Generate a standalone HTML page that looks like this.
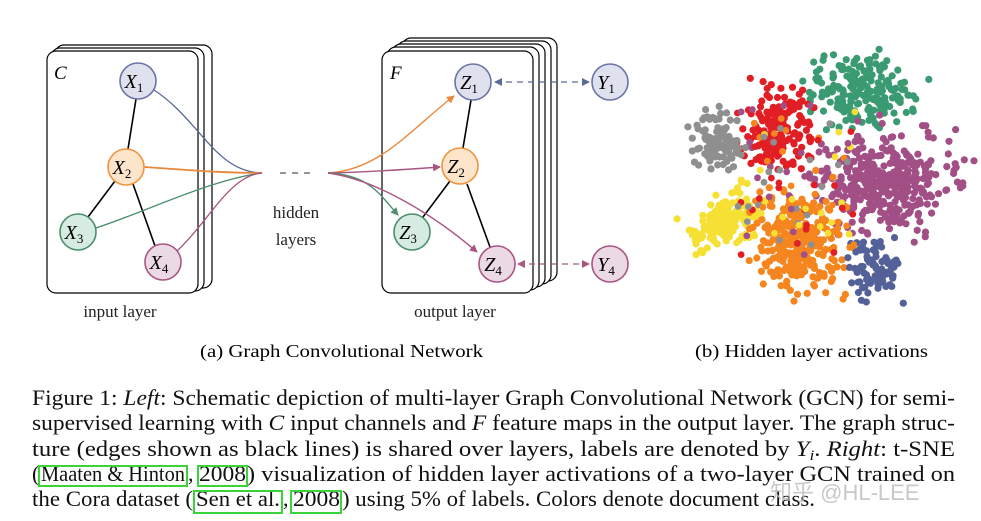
<!DOCTYPE html>
<html><head><meta charset="utf-8"><style>
html,body{margin:0;padding:0;background:#fff;}
svg{display:block;}
</style></head><body>
<svg id="s" width="981" height="521" viewBox="0 0 981 521" xmlns="http://www.w3.org/2000/svg" font-family="Liberation Serif, serif">
<defs>
<marker id="ao" markerWidth="8" markerHeight="8" refX="7" refY="4" orient="auto" markerUnits="userSpaceOnUse"><path d="M0,0 L8,4 L0,8 Z" fill="#e8883a"/></marker>
<marker id="ap" markerWidth="8" markerHeight="8" refX="7" refY="4" orient="auto" markerUnits="userSpaceOnUse"><path d="M0,0 L8,4 L0,8 Z" fill="#a85682"/></marker>
<marker id="ag" markerWidth="8" markerHeight="8" refX="7" refY="4" orient="auto" markerUnits="userSpaceOnUse"><path d="M0,0 L8,4 L0,8 Z" fill="#4b8f6c"/></marker>
<marker id="ab" markerWidth="8" markerHeight="8" refX="7" refY="4" orient="auto-start-reverse" markerUnits="userSpaceOnUse"><path d="M0,0 L8,4 L0,8 Z" fill="#5a6a9a"/></marker>
<marker id="am" markerWidth="8" markerHeight="8" refX="7" refY="4" orient="auto-start-reverse" markerUnits="userSpaceOnUse"><path d="M0,0 L8,4 L0,8 Z" fill="#a85682"/></marker>
</defs>
<g fill="#fff" stroke="#000" stroke-width="1.2">
<rect x="55" y="45" width="157" height="243" rx="9"/>
<rect x="51" y="48" width="153" height="243" rx="9"/>
<rect x="47" y="51" width="151" height="242" rx="9"/>
</g>
<text x="54" y="79" font-size="19" font-style="italic">C</text>
<g fill="#fff" stroke="#000" stroke-width="1.2">
<rect x="402" y="38" width="155" height="243" rx="9"/>
<rect x="397" y="41" width="154" height="243" rx="9"/>
<rect x="392" y="44" width="153" height="243" rx="9"/>
<rect x="387" y="47" width="152" height="243" rx="9"/>
<rect x="382" y="51" width="151" height="242" rx="9"/>
</g>
<text x="390" y="79" font-size="19" font-style="italic">F</text>
<g stroke="#000" stroke-width="1.6">
<line x1="136" y1="99" x2="128" y2="149"/>
<line x1="115" y1="181" x2="88" y2="217"/>
<line x1="133" y1="184" x2="155" y2="246"/>
<line x1="471" y1="100" x2="463" y2="148"/>
<line x1="450" y1="181" x2="423" y2="217"/>
<line x1="467" y1="184" x2="490" y2="247"/>
</g>
<g fill="none" stroke-width="1.3">
<path d="M154,90 C200,120 215,172 262,173" stroke="#5a6a9a"/>
<path d="M144,167 C190,170 220,173 262,173" stroke="#e8883a" stroke-width="1.8"/>
<path d="M96,228 C150,210 210,180 262,173" stroke="#4b8f6c"/>
<path d="M177,251 C210,220 230,175 262,173" stroke="#a85682"/>
</g>
<line x1="280" y1="173" x2="314" y2="173" stroke="#555" stroke-width="1.2" stroke-dasharray="6,6"/>
<g fill="none" stroke-width="1.4">
<path d="M328,173 C380,170 410,130 454,96" stroke="#e8883a" marker-end="url(#ao)"/>
<path d="M328,173 C370,172 400,170 440,167" stroke="#a85682" marker-end="url(#ap)"/>
<path d="M328,173 C370,175 380,195 398,215" stroke="#4b8f6c" marker-end="url(#ag)"/>
<path d="M328,173 C380,180 440,220 477,252" stroke="#a85682" marker-end="url(#ap)"/>
</g>
<line x1="495" y1="82" x2="589" y2="82" stroke="#5a6a9a" stroke-width="1.3" stroke-dasharray="6,5" marker-start="url(#ab)" marker-end="url(#ab)"/>
<line x1="518" y1="264" x2="589" y2="264" stroke="#a85682" stroke-width="1.3" stroke-dasharray="6,5" marker-start="url(#am)" marker-end="url(#am)"/>
<g stroke-width="1.6" font-size="20" font-style="italic" text-anchor="middle">
<circle cx="138" cy="81" r="18" fill="#dfe1ee" stroke="#6b74a3"/><text x="134" y="88">X<tspan font-size="13" font-style="normal" dy="4">1</tspan></text>
<circle cx="126" cy="167" r="18" fill="#fde5cc" stroke="#f0943f"/><text x="122" y="174">X<tspan font-size="13" font-style="normal" dy="4">2</tspan></text>
<circle cx="78" cy="232" r="18" fill="#d6ece2" stroke="#4b8f6c"/><text x="74" y="239">X<tspan font-size="13" font-style="normal" dy="4">3</tspan></text>
<circle cx="163" cy="262" r="18" fill="#ecd9e6" stroke="#a85682"/><text x="159" y="269">X<tspan font-size="13" font-style="normal" dy="4">4</tspan></text>
<circle cx="473" cy="82" r="18" fill="#dfe1ee" stroke="#6b74a3"/><text x="469" y="89">Z<tspan font-size="13" font-style="normal" dy="4">1</tspan></text>
<circle cx="460" cy="166" r="18" fill="#fde5cc" stroke="#f0943f"/><text x="456" y="173">Z<tspan font-size="13" font-style="normal" dy="4">2</tspan></text>
<circle cx="412" cy="232" r="18" fill="#d6ece2" stroke="#4b8f6c"/><text x="408" y="239">Z<tspan font-size="13" font-style="normal" dy="4">3</tspan></text>
<circle cx="497" cy="264" r="18" fill="#ecd9e6" stroke="#a85682"/><text x="493" y="271">Z<tspan font-size="13" font-style="normal" dy="4">4</tspan></text>
<circle cx="610" cy="82" r="18" fill="#dfe1ee" stroke="#6b74a3"/><text x="606" y="89">Y<tspan font-size="13" font-style="normal" dy="4">1</tspan></text>
<circle cx="610" cy="264" r="18" fill="#ecd9e6" stroke="#a85682"/><text x="606" y="271">Y<tspan font-size="13" font-style="normal" dy="4">4</tspan></text>
</g>
<g font-size="17" text-anchor="middle" fill="#222">
<text x="296" y="218">hidden</text>
<text x="296" y="245">layers</text>
<text x="120" y="317">input layer</text>
<text x="455" y="317">output layer</text>
</g>
<g font-size="18">
<text x="200" y="357" textLength="283" lengthAdjust="spacingAndGlyphs">(a) Graph Convolutional Network</text>
<text x="695" y="357" textLength="233" lengthAdjust="spacingAndGlyphs">(b) Hidden layer activations</text>
</g>
<g id="sc"></g>
<g font-size="22" fill="#111">
<text x="32" y="405" textLength="923" lengthAdjust="spacingAndGlyphs">Figure 1: <tspan font-style="italic">Left</tspan>: Schematic depiction of multi-layer Graph Convolutional Network (GCN) for semi-</text>
<text x="32" y="430" textLength="923" lengthAdjust="spacingAndGlyphs">supervised learning with <tspan font-style="italic">C</tspan> input channels and <tspan font-style="italic">F</tspan> feature maps in the output layer. The graph struc-</text>
<text x="32" y="456" textLength="923" lengthAdjust="spacingAndGlyphs">ture (edges shown as black lines) is shared over layers, labels are denoted by <tspan font-style="italic">Y</tspan><tspan font-style="italic" font-size="15" dy="4">i</tspan><tspan dy="-4">.  </tspan><tspan font-style="italic">Right</tspan>: t-SNE</text>
<text x="32" y="481">(</text>
<text x="41" y="481" textLength="144" lengthAdjust="spacingAndGlyphs">Maaten &amp; Hinton</text>
<text x="188" y="481">,</text>
<text x="199" y="481" textLength="47" lengthAdjust="spacingAndGlyphs">2008</text>
<text x="247" y="481" textLength="708" lengthAdjust="spacingAndGlyphs">) visualization of hidden layer activations of a two-layer GCN trained on</text>
<text x="32" y="506" textLength="161" lengthAdjust="spacingAndGlyphs">the Cora dataset (</text>
<text x="196" y="506" textLength="84" lengthAdjust="spacingAndGlyphs">Sen et al.</text>
<text x="283" y="506">,</text>
<text x="293" y="506" textLength="47" lengthAdjust="spacingAndGlyphs">2008</text>
<text x="342" y="506" textLength="473" lengthAdjust="spacingAndGlyphs">) using 5% of labels. Colors denote document class.</text>
</g>
<g fill="none" stroke="#3ad33a" stroke-width="2">
<rect x="39" y="466" width="148" height="20"/>
<rect x="198" y="466" width="49" height="20"/>
<rect x="194" y="491" width="88" height="22"/>
<rect x="291" y="491" width="50" height="22"/>
</g>
<text x="770" y="500" font-size="22" fill="#bbb" opacity="0.8" font-family="Liberation Sans, Noto Sans CJK SC, sans-serif">知乎 @HL-LEE</text>
</svg>
<script>
(function(){
var s=12345;function r(){s=(s*16807)%2147483647;return (s-1)/2147483646;}
function g(){return (r()+r()+r()+r()-2)/1.15;}
var NS="http://www.w3.org/2000/svg";
var root=document.getElementById("sc");
function dot(x,y,rad,col){var c=document.createElementNS(NS,"circle");c.setAttribute("cx",x.toFixed(1));c.setAttribute("cy",y.toFixed(1));c.setAttribute("r",rad);c.setAttribute("fill",col);root.appendChild(c);}
var cl=[["#3a9a72",860,92,48,36,200,0],["#e21e25",778,128,36,38,160,0],["#8f8f8f",716,140,24,30,100,0],["#a24f86",885,183,62,45,380,0],["#f6e034",725,222,36,24,130,-0.45],["#f5861f",797,242,40,48,280,0],["#546198",876,270,22,28,90,0]];
for(var k=0;k<cl.length;k++){var c=cl[k];for(var i=0;i<c[5];i++){var a=g(),b=g();dot(c[1]+a*c[3],c[2]+b*c[4]+a*c[6]*c[3],3.6,c[0]);}}
var cols=["#f6e034","#a24f86","#e21e25","#f5861f","#8f8f8f"];
for(var i=0;i<110;i++){dot(735+r()*120,105+r()*150,3.4,cols[i%5]);}
})();
</script>
</body></html>
